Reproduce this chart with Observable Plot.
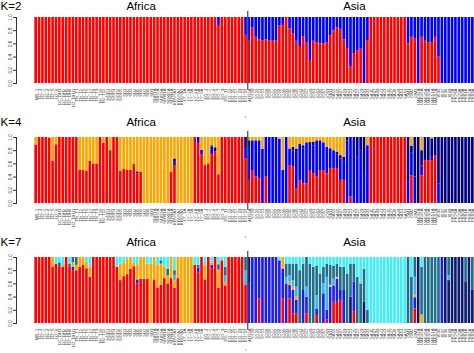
<!DOCTYPE html>
<html><head><meta charset="utf-8">
<script src="https://cdn.jsdelivr.net/npm/d3@7"></script>
<script src="https://cdn.jsdelivr.net/npm/@observablehq/plot@0.6"></script>
<style>
body{margin:0;background:#fff;}
#chart{width:474px;height:353px;overflow:hidden;background:#fff;}
#chart svg{display:block;}
</style></head><body><div id="chart"></div>
<script>
// ---- tick labels (individuals) ----
const africaLabels = ["MR_2","DZ_1","DZ_2","DZ_3","DZ_5","DZ_6","DZ_8","DZ_DH1","DZ_DH2","DZ_DH5",
 "DZ_DH8","DZ_DH11","TN_T1","TN_T2","TN_T5","TN_T6","TN_T7","TN_T8","TN_T9","TN_T10",
 "TN_T12","NGR1","NGR2","NGR3","NGR4","NGR5","SD1","SD2","SD3","SD4",
 "SD5","SD6","SD7","SD8","SD9","SDR1A","SDR2A","SDR3A","SDW1A","SDW2A",
 "SDW4A","KENYA1","KENYA2","KENYA3","LY_1A","LY_2A","LY_3A","LY_4A","LY_5A","LY_6A",
 "EG_1","EG_2","EG_4","EG_5","EG_7","EG_9","EG_11","EG_13","EG_15","EG_17",
 "EG_19","EG_21","EG_23"];
const asiaLabels = ["ATN3A","SY19","SY20","SY21","SY23","JO18","JO20","JO24","JO26","JO28",
 "JO30","JO33","JO35","JO38","JO40","JO43","JO45","JO47","JO49","JO51",
 "JO53","JO55","JO57","JO59","SA11","SA13","SA15","SA17","SA19","SA21",
 "SA23","SA25","SA27","SA29","SA31","SA33","SA35","SA37","SA39","SA41",
 "SA43","SA45","SA47","SA48","SA49","SA51","SA53","OM1","OM2","OM3",
 "UAE44A","UAE46A","UAE48A","UAE50A","UAE51A","UAE52A","IR36","IR37","IR38","IR39",
 "PK77A","PK78A","PK79A","PK80A","PK81A","PK82A","PK83A"];
const regionNames = ["Africa", "Asia"];
const panelTitles = ["K=2", "K=4", "K=7"];
const yTicks = [0, 0.2, 0.4, 0.6, 0.8, 1.0];

// ---- K=2 (blue = rest) ----
const k2RedAfrica = [1,1,1,1,1,1,1,1,1,1, 1,1,1,1,1,1,1,1,1,1, 1,1,1,1,1,1,1,1,1,1,
 1,1,1,1,1,1,1,1,1,1, 1,1,1,1,1,1,1,1,1,1, 1,1,1,1,.88,1,1,1,1,1, 1,1,.73];
const k2RedAsia = [.64,.84,.70,.66,.65,.66,.65,.64,.64,.87, .88,1,.83,.75,.64,.56,.71,.62,.35,.64,
 .62,.60,.60,.62,.72,.80,.84,.82,.66,.53, .25,.45,.50,.52,0,.65,1,1,1,1,
 1,1,1,1,1,1,1,.60,.70,.68, 0,.70,.64,.62,.62,.70,.40,0,0,0, 0,0,0,0,0,0,0];

// ---- K=4 (Africa: orange = rest; Asia: blue = rest) ----
const k4RedAfrica = [.885,1,1,1,.985,.64,.89,1,1,1, 1,1,1,.50,.50,.49,.64,.60,.60,1,
 .915,1,.80,1,1,.485,.515,.50,.50,.59, .45,.47,0,0,0,0,0,0,0,0,
 .475,.575,0,0,0,0,0,1,.91,.735, .575,.60,.735,.785,.435,1,1,1,1,1, 1,1,.68];
const k4BlueAfrica = [0,0,0,0,0,0,0,0,0,0, 0,0,0,0,0,0,0,0,0,0, 0,0,0,0,0,0,0,0,0,0,
 0,0,0,0,0,0,0,0,0,0, 0,.06,0,0,0,0,0,0,.09,.07, 0,0,.12,0,0,0,0,0,0,0, 0,0,.14];
const k4NavyAfrica = [0,0,0,0,0,0,0,0,0,0, 0,0,0,0,0,0,0,0,0,0, 0,0,0,0,0,0,0,0,0,0,
 .03,0,0,0,0,0,0,0,0,0, 0,.04,0,0,0,0,0,0,0,0, 0,0,.02,.06,0,0,0,0,0,0, 0,0,.18];
const k4RedAsia = [.35,.50,.40,.375,0,.40,0,0,0,0, 0,0,.575,.55,.225,.35,.30,.30,.50,.45,
 .40,.50,.50,.45,.53,.53,.53,.35,.35,0, .10,0,0,0,0,0,1,1,1,1,
 1,1,1,1,1,1,1,0,.42,0, 0,.42,.65,.65,.65,.72,0,0,0,0, 0,0,0,0,0,0,0];
const k4OrangeAsia = [.05,.05,.05,.05,.18,0,0,0,0,.03, .50,0,.175,.15,.175,.10,.125,.08,.075,.075,
 .05,.05,.08,.15,.17,.20,.22,.275,.30,0, 0,0,0,0,0,.125,0,0,0,0,
 0,0,0,0,0,0,0,0,.13,0, 0,.20,0,0,.02,0,0,0,0,0, 0,0,0,0,0,0,0];
const k4NavyAsia = [.10,0,0,0,0,0,0,0,0,0, 0,0,0,.05,.05,0,.05,0,0,.05,
 0,0,0,0,0,0,.05,.05,.05,.05, 0,0,.30,.20,.50,0,0,0,0,0,
 0,0,0,0,0,0,0,.65,.10,.60, 1,.23,.35,.35,.28,.28,.70,1,1,1, 1,1,1,1,1,1,1];

// ---- K=7 (Africa: red = rest; Asia: teal = rest) ----
const k7OrangeAfrica = [0,0,0,0,0,.15,0,0,.03,0, 0,.07,.08,.15,.12,.10,.15,0,0,0,
 0,0,0,0,0,.25,.20,.24,.18,.06, .22,.33,.33,.23,.90,.34,.34,.32,.17,.12,
 .32,.12,.32,1,1,1,1,0,0,0, .22,0,.04,0,.28,0,.05,0,0,0, 0,0,0];
const k7CyanAfrica = [0,0,0,0,0,0,.10,.08,.12,0, .10,0,0,0,0,.07,.15,0,0,0,
 0,0,0,0,.15,.10,.09,.02,0,.08, .12,0,0,.10,.10,0,.12,.05,.15,.18,
 0,.20,0,0,0,0,0,.12,.12,0, .12,0,.08,0,.11,.05,.15,0,0,0, 0,0,0];
const k7TealAfrica = [0,0,0,0,0,0,0,.07,0,0, .05,.08,.12,0,0,0,0,0,0,0,
 0,0,0,0,0,0,0,0,0,0, 0,0,0,0,0,0,0,.05,0,.10,
 0,.07,0,0,0,0,0,0,.04,0, 0,0,0,0,.08,0,.13,0,0,0, 0,0,.20];
const k7BlueAfrica = [0,0,0,0,0,0,0,0,0,0, 0,.05,0,0,0,0,0,0,0,0, 0,0,0,0,0,0,0,0,0,0,
 .06,0,0,0,0,0,0,0,0,0, 0,0,0,0,0,0,0,0,.07,0, 0,0,.05,0,0,0,0,0,0,0, 0,0,0];
const k7NavyAfrica = [0,0,0,0,0,0,0,0,0,0, 0,0,0,0,0,0,0,0,0,0, 0,0,0,0,0,0,0,0,0,0,
 0,0,0,0,0,0,0,0,0,0, 0,0,0,0,0,0,0,0,0,0, 0,0,0,.02,0,0,0,0,0,0, 0,0,0];
const k7LtBlueAfrica = [0,0,0,0,0,0,0,0,0,0, 0,0,0,0,0,0,0,0,0,0, 0,0,0,0,0,0,0,0,0,0,
 0,0,0,0,0,0,0,0,0,0, 0,.08,0,0,0,0,0,0,0,0, 0,0,0,0,0,0,.10,0,0,0, 0,0,.225];
const k7RedAsia = [0,0,0,.375,0,0,0,0,0,0, .375,0,.375,.15,.15,0,0,.15,0,0,
 .12,0,0,.05,0,.32,.32,.35,0,0, 0,.18,0,0,0,0,0,0,0,0,
 0,0,0,0,0,0,0,0,0,.22, 0,0,0,0,0,0,0,0,0,0, 0,0,0,0,0,0,0];
const k7BlueAsia = [.62,1,1,.625,1,1,1,1,1,.95, .45,.60,.20,.35,.20,0,.50,.25,0,0,
 .10,0,.45,.15,.55,.25,.35,.15,.50,0, 0,.45,0,0,0,0,0,0,0,0,
 0,0,0,0,0,0,0,0,0,.17, 0,0,0,0,0,0,0,1,0,0, 0,0,0,0,0,0,0];
const k7NavyAsia = [.38,0,0,0,0,0,0,0,0,0, 0,0,0,0,0,0,0,0,0,0, 0,0,0,0,0,0,0,0,0,0,
 .40,0,0,0,.32,0,0,0,0,0, 0,0,0,0,0,0,0,0,0,0, 1,0,0,0,0,0,0,0,1,.65, 1,1,1,1,.62,1,.5];
const k7OrangeAsia = [0,0,0,0,0,0,0,0,0,0, .175,0,.05,.05,.05,0,0,0,0,0,
 0,0,0,0,.03,0,.03,0,0,0, 0,0,0,0,0,0,0,0,0,0,
 0,0,0,0,0,0,0,0,0,.04, 0,.13,0,0,0,0,0,0,0,0, 0,0,0,0,0,0,0];
const k7LtBlueAsia = [0,0,0,0,0,0,0,0,0,0, 0,.10,.10,.10,.15,0,0,.15,0,0,
 .20,0,.15,.50,0,.10,0,0,0,0, 0,0,0,0,0,0,0,0,0,0,
 0,0,0,0,0,0,0,0,0,.27, 0,0,0,0,0,0,0,0,0,.07, 0,0,0,0,0,0,0];
const k7CyanAsia = [0,0,0,0,0,0,0,0,0,.05, 0,.10,.10,.10,.10,.20,.10,0,.10,.15,
 .13,.25,.15,.10,.12,.13,.10,.15,.15,.25, .10,.10,.30,.40,.18,.80,1,1,1,1,
 1,1,1,1,1,1,1,0,.30,0, 0,.15,0,0,0,0,0,0,0,0, 0,0,0,0,0,0,0];

// ---- cluster colours ----
const clusterNames = ["red","blue","navy","orange","ltblue","teal","cyan"];
const clusterColors = ["#FF0000","#1E1EEB","#0C1C6C","#FFA500","#38B2F0","#1F6F8B","#40EFF5"];

// ---- build long tables ----
const nAf = k2RedAfrica.length, nAs = k2RedAsia.length, N = nAf + nAs;
const labels = africaLabels.concat(asiaLabels);
const ids = d3.range(N);

function build(order, af, afRest, as, asRest) {
  const rows = [];
  for (let i = 0; i < N; i++) {
    const inAf = i < nAf, src = inAf ? af : as, rest = inAf ? afRest : asRest, k = inAf ? i : i - nAf;
    const vals = {}; let sum = 0;
    for (const c of order) if (c !== rest && src[c]) { vals[c] = src[c][k]; sum += vals[c]; }
    vals[rest] = Math.max(0, 1 - sum);
    for (const c of order) if (vals[c] > 1e-6) rows.push({i, c, v: vals[c]});
  }
  return rows;
}
const k2Order = ["red","blue"];
const k4Order = ["red","blue","navy","orange"];
const k7Order = ["red","blue","navy","orange","ltblue","teal","cyan"];
const k2Rows = build(k2Order, {red: k2RedAfrica}, "blue", {red: k2RedAsia}, "blue");
const k4Rows = build(k4Order, {red: k4RedAfrica, blue: k4BlueAfrica, navy: k4NavyAfrica}, "orange",
                              {red: k4RedAsia, navy: k4NavyAsia, orange: k4OrangeAsia}, "blue");
const k7Rows = build(k7Order,
  {orange: k7OrangeAfrica, blue: k7BlueAfrica, navy: k7NavyAfrica, ltblue: k7LtBlueAfrica, teal: k7TealAfrica, cyan: k7CyanAfrica}, "red",
  {red: k7RedAsia, blue: k7BlueAsia, navy: k7NavyAsia, orange: k7OrangeAsia, ltblue: k7LtBlueAsia, cyan: k7CyanAsia}, "teal");

const PI = 0.22, PO = 0.1, X0 = 34, X1 = 474;
const step = d3.scaleBand(ids, [X0, X1]).paddingInner(PI).paddingOuter(PO).step();
const font = "'Liberation Sans', Arial, Helvetica, sans-serif";

function panel(title, rows, order, h, mb, titleDy) {
  return Plot.plot({
    width: 474, height: h, marginLeft: 16, marginRight: 0, marginTop: 17, marginBottom: mb,
    style: {fontFamily: font, fontSize: "4.6px", color: "#333", background: "white", overflow: "visible"},
    x: {type: "band", domain: ids, range: [X0, X1], paddingInner: PI, paddingOuter: PO},
    y: {domain: [0, 1], ticks: yTicks, tickFormat: d3.format(".1f"), tickSize: 3, tickPadding: 1.2, tickRotate: -90, line: true, label: null},
    color: {domain: clusterNames, range: clusterColors},
    marks: [
      Plot.barY(rows, {x: "i", y: "v", fill: "c", order}),
      Plot.ruleX([nAf - 1], {dx: step / 2, y1: -0.1, y2: 1.09, stroke: "#555", strokeWidth: 1.3}),
      Plot.axisX({tickFormat: (i) => labels[i] ?? "", tickRotate: -90, textAnchor: "end", lineAnchor: "middle",
                  tickSize: 0, tickPadding: 5, fontSize: 4.3, fill: "#4a4a4a"}),
      Plot.text([title], {frameAnchor: "top-left", dx: -16, dy: titleDy, textAnchor: "start", lineAnchor: "bottom", fontSize: 11.5, fill: "#000"}),
      Plot.text([regionNames[0]], {x: [Math.floor((nAf - 1) / 2)], frameAnchor: "top", dy: titleDy, lineAnchor: "bottom", fontSize: 11.5, fill: "#000"}),
      Plot.text([regionNames[1]], {x: [nAf + 31], frameAnchor: "top", dy: titleDy, lineAnchor: "bottom", fontSize: 11.5, fill: "#000"})
    ]
  });
}

const root = document.getElementById("chart");
root.appendChild(panel(panelTitles[0], k2Rows, k2Order, 120, 37, -7.7));
root.appendChild(panel(panelTitles[1], k4Rows, k4Order, 120, 37, -11.3));
root.appendChild(panel(panelTitles[2], k7Rows, k7Order, 113, 30, -11.3));
</script></body></html>
